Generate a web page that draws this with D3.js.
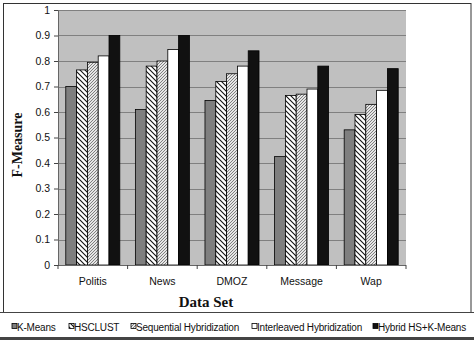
<!DOCTYPE html>
<html><head><meta charset="utf-8">
<script src="https://cdn.jsdelivr.net/npm/d3@7"></script>
<style>body{margin:0;background:#fff}svg{display:block}</style>
</head><body>
<svg id="c" width="474" height="340"></svg>
<script>
const categories = ["Politis", "News", "DMOZ", "Message", "Wap"];
const seriesNames = ["K-Means", "HSCLUST", "Sequential Hybridization", "Interleaved Hybridization", "Hybrid HS+K-Means"];
const kMeans      = [0.70, 0.61, 0.645, 0.425, 0.53];
const hsclust     = [0.765, 0.78, 0.72, 0.665, 0.59];
const sequential  = [0.795, 0.80, 0.75, 0.67, 0.63];
const interleaved = [0.82, 0.845, 0.78, 0.69, 0.685];
const hybrid      = [0.90, 0.90, 0.84, 0.78, 0.77];
const yTicks = [0, 0.1, 0.2, 0.3, 0.4, 0.5, 0.6, 0.7, 0.8, 0.9, 1];
const yTickLabels = ["0", "0.1", "0.2", "0.3", "0.4", "0.5", "0.6", "0.7", "0.8", "0.9", "1"];

(function(){
const seriesValues = [kMeans, hsclust, sequential, interleaved, hybrid];
const svg = d3.select("#c");
const defs = svg.append("defs");

const p1 = defs.append("pattern").attr("id","pHS").attr("patternUnits","userSpaceOnUse")
  .attr("width",5).attr("height",5);
p1.append("rect").attr("width",5).attr("height",5).attr("fill","#fff");
p1.append("path").attr("d","M-1,-1 L6,6 M-1,4 L1,6 M4,-1 L6,1").attr("stroke","#111").attr("stroke-width",1.1);
const p2 = defs.append("pattern").attr("id","pSeq").attr("patternUnits","userSpaceOnUse")
  .attr("width",3).attr("height",3);
p2.append("rect").attr("width",3).attr("height",3).attr("fill","#e6e6e6");
p2.append("path").attr("d","M-1,4 L4,-1 M-1,1 L1,-1 M2,4 L4,2").attr("stroke","#666").attr("stroke-width",0.8);

const fills = ["#7f7f7f", "url(#pHS)", "url(#pSeq)", "#ffffff", "#111111"];

svg.append("rect").attr("x",3.5).attr("y",3.5).attr("width",467.5).attr("height",309)
  .attr("fill","none").attr("stroke","#333");
svg.append("line").attr("x1",0).attr("x2",474).attr("y1",312.5).attr("y2",312.5).attr("stroke","#444");
svg.append("rect").attr("x",0).attr("y",337).attr("width",474).attr("height",3).attr("fill","#444");

const pL = 58, pR = 406, pT = 10, pB = 265;
const x0 = d3.scaleBand().domain(categories).range([pL, pR]).padding(0);
const x1 = d3.scaleBand().domain(d3.range(5)).range([0, x0.bandwidth()]).paddingInner(0).paddingOuter(0.72);
const y = d3.scaleLinear().domain([0, 1]).range([pB, pT]);

svg.append("rect").attr("x",pL).attr("y",pT).attr("width",pR-pL).attr("height",pB-pT)
  .attr("fill","#c0c0c0");

svg.append("g").selectAll("line").data(yTicks.filter(d=>d>0)).join("line")
  .attr("x1",pL).attr("x2",pR).attr("y1",d=>Math.round(y(d))+0.5).attr("y2",d=>Math.round(y(d))+0.5)
  .attr("stroke","#808080").attr("stroke-width",1.2);

categories.forEach((c, ci) => {
  svg.append("g").selectAll("rect").data(seriesValues.map((s, si) => ({si, v: s[ci]}))).join("rect")
    .attr("x", d => x0(c) + x1(d.si))
    .attr("y", d => y(d.v))
    .attr("width", x1.bandwidth())
    .attr("height", d => y(0) - y(d.v))
    .attr("fill", d => fills[d.si])
    .attr("stroke", "#000").attr("stroke-width", 0.8);
});

const yAxis = d3.axisLeft(y).tickValues(yTicks).tickFormat((d,i)=>yTickLabels[i]).tickSize(4).tickPadding(4);
const gy = svg.append("g").attr("transform",`translate(${pL},0)`).call(yAxis);
gy.select(".domain").attr("stroke","#666");
gy.selectAll(".tick line").attr("stroke","#444");
gy.selectAll("text").attr("font-family","Liberation Sans, Arial, sans-serif").attr("font-size",10.5).attr("fill","#111");

const gx = svg.append("g").attr("transform",`translate(0,${pB})`);
gx.append("line").attr("x1",pL).attr("x2",pR).attr("y1",0.5).attr("y2",0.5).attr("stroke","#666");
const bounds = categories.map(c=>x0(c)).concat([pR]);
gx.selectAll(".tk").data(bounds).join("line").attr("class","tk")
  .attr("x1",d=>d).attr("x2",d=>d).attr("y1",0).attr("y2",4).attr("stroke","#444");
gx.selectAll("text").data(categories).join("text")
  .attr("x",d=>x0(d)+x0.bandwidth()/2).attr("y",20).attr("text-anchor","middle")
  .attr("font-family","Liberation Sans, Arial, sans-serif").attr("font-size",10.5).attr("fill","#111").text(d=>d);

svg.append("text").attr("transform","translate(22,145) rotate(-90)").attr("text-anchor","middle")
  .attr("font-family","Liberation Serif, Times New Roman, serif").attr("font-weight","bold").attr("font-size",14)
  .attr("fill","#111").text("F-Measure");
svg.append("text").attr("x",206).attr("y",307).attr("text-anchor","middle")
  .attr("font-family","Liberation Serif, Times New Roman, serif").attr("font-weight","bold").attr("font-size",15)
  .attr("fill","#111").text("Data Set");

const legX = [12, 69, 131, 252, 373];
const lg = svg.append("g").selectAll("g").data(seriesNames).join("g")
  .attr("transform",(d,i)=>`translate(${legX[i]},327)`);
lg.append("rect").attr("x",0).attr("y",-3.5).attr("width",5).attr("height",5)
  .attr("fill",(d,i)=>fills[i]).attr("stroke","#000").attr("stroke-width",0.8);
lg.append("text").attr("x",5).attr("y",3.5)
  .attr("font-family","Liberation Sans, Arial, sans-serif").attr("font-size",10).attr("fill","#111")
  .attr("letter-spacing",-0.2).text(d=>d);
})();
</script>
</body></html>
